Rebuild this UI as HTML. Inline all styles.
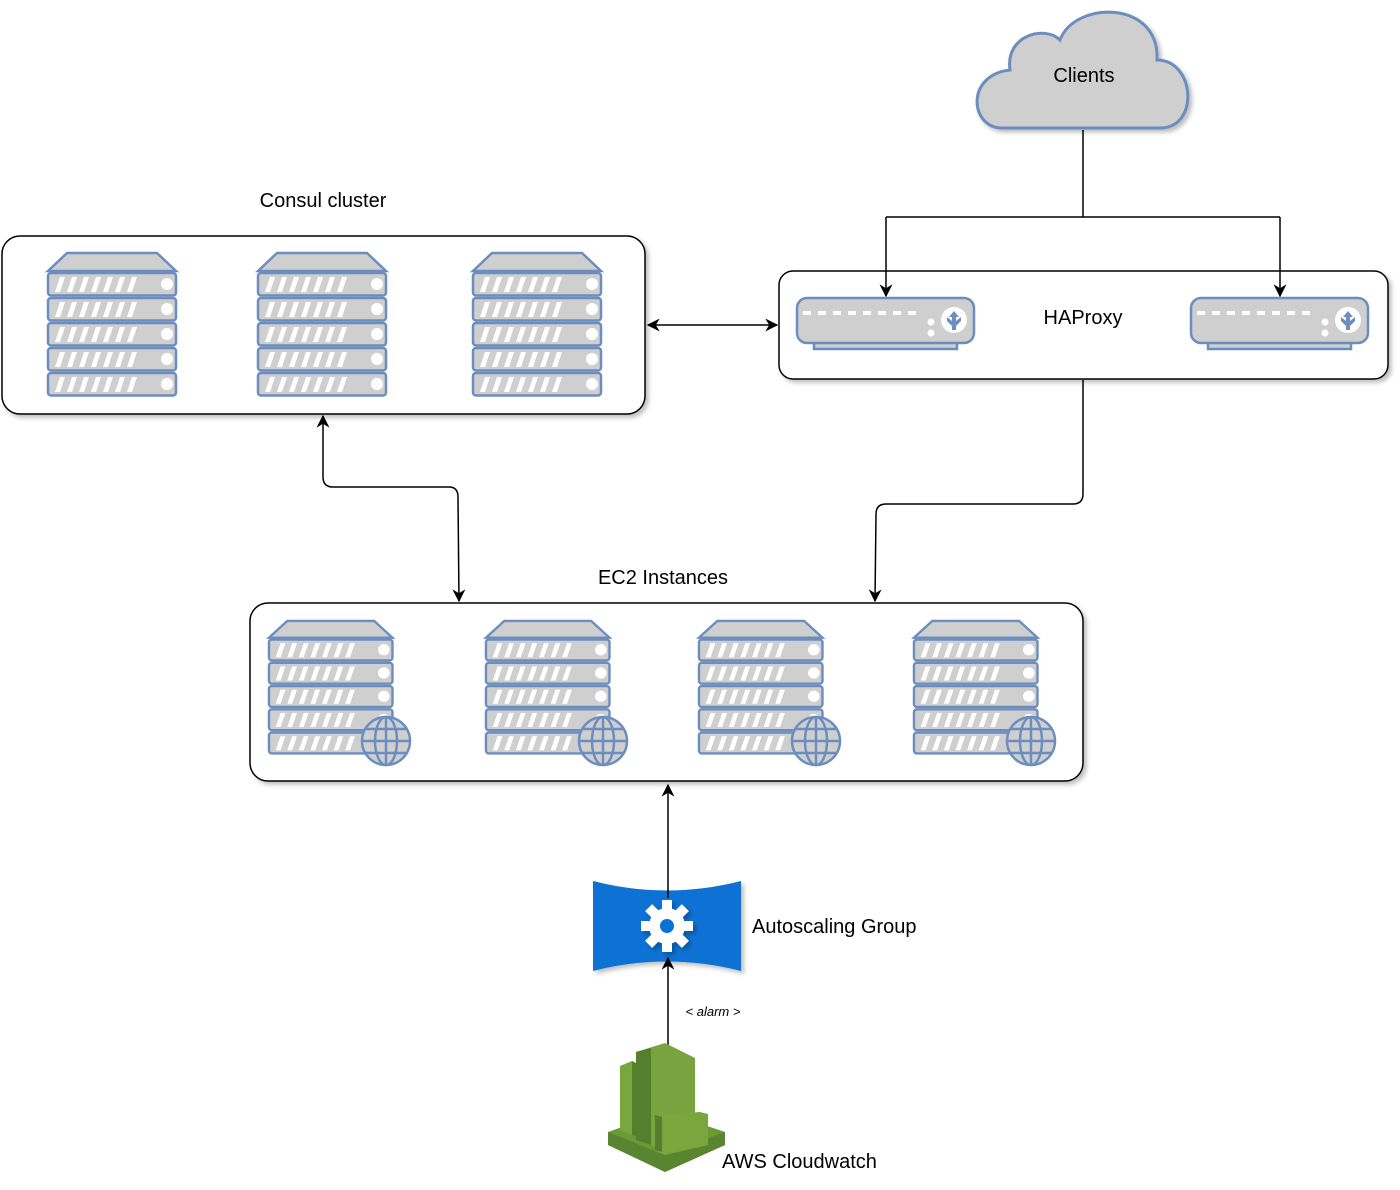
<!DOCTYPE html>
<html><head><meta charset="utf-8"><style>
body{margin:0;background:#fff}
svg{display:block}
text{font-family:"Liberation Sans",Arial,sans-serif;fill:#000}
</style></head><body>
<svg width="1400" height="1190" viewBox="0 0 1400 1190" xmlns="http://www.w3.org/2000/svg">
<defs>
<filter id="sh" x="-10%" y="-10%" width="130%" height="130%"><feDropShadow dx="3" dy="3" stdDeviation="2" flood-color="#000" flood-opacity="0.25"/></filter>
<marker id="ar" viewBox="0 0 10 10" refX="9" refY="5" markerWidth="13" markerHeight="13" orient="auto-start-reverse" markerUnits="userSpaceOnUse"><path d="M0,0 L10,5 L0,10 L3,5 z" fill="#000"/></marker>
<g id="row">
<rect x="1" y="0" width="128" height="22.5" rx="3" fill="#cfcfcf" stroke="#6c8ebf" stroke-width="2.5"/>
<g fill="#fff">
<path d="M8,19 L13,4 L18,4 L13,19z"/><path d="M20,19 L25,4 L30,4 L25,19z"/><path d="M32,19 L37,4 L42,4 L37,19z"/><path d="M44,19 L49,4 L54,4 L49,19z"/><path d="M56,19 L61,4 L66,4 L61,19z"/><path d="M68,19 L73,4 L78,4 L73,19z"/><path d="M80,19 L85,4 L90,4 L85,19z"/>
<circle cx="120" cy="11" r="6"/></g>
</g>
<g id="srv">
<path d="M1,19 L20,1 L110,1 L129,19z" fill="#cfcfcf" stroke="#6c8ebf" stroke-width="2.5"/>
<use href="#row" y="21"/><use href="#row" y="46"/><use href="#row" y="71"/><use href="#row" y="96"/><use href="#row" y="121"/>
</g>
<g id="globe" fill="none" stroke="#6c8ebf" stroke-width="2.5">
<circle r="24" fill="#cfcfcf"/>
<ellipse rx="11" ry="24"/><line x1="0" y1="-24" x2="0" y2="24"/><line x1="-24" y1="0" x2="24" y2="0"/>
<line x1="-20" y1="-12" x2="20" y2="-12"/><line x1="-20" y1="12" x2="20" y2="12"/>
</g>
<g id="ec2"><g transform="scale(0.965,0.93)"><use href="#srv"/></g><use href="#globe" x="118" y="121"/></g>
<g id="sw">
<rect x="18" y="44" width="143" height="8" fill="#cfcfcf" stroke="#6c8ebf" stroke-width="2.5"/>
<rect x="1" y="1" width="177" height="45" rx="10" fill="#cfcfcf" stroke="#6c8ebf" stroke-width="2.5"/>
<g fill="#fff"><rect x="7" y="14" width="8" height="4"/><rect x="22" y="14" width="8" height="4"/><rect x="37" y="14" width="8" height="4"/><rect x="52" y="14" width="8" height="4"/><rect x="67" y="14" width="8" height="4"/><rect x="82" y="14" width="8" height="4"/><rect x="97" y="14" width="8" height="4"/><rect x="112" y="14" width="8" height="4"/>
<circle cx="135" cy="25" r="3.5"/><circle cx="135" cy="36" r="3.5"/><circle cx="158" cy="23" r="13"/></g>
<path d="M158,14 L153,20 L156,20 L156,24 L151,20 L151,24 L156,29 L156,33 L160,33 L160,29 L165,24 L165,20 L160,24 L160,20 L163,20z" fill="#6c8ebf"/>
</g>
</defs>

<path d="M1002,128 C970,128 965,75 1010,70 C1005,35 1045,25 1060,40 C1075,0 1160,0 1157,60 C1195,60 1200,128 1160,128 Z" fill="#cfcfcf" stroke="#6c8ebf" stroke-width="3" filter="url(#sh)"/>
<text x="1084" y="82" font-size="20" text-anchor="middle">Clients</text>

<rect x="2" y="236" width="643" height="178" rx="18" fill="#fff" stroke="#000" stroke-width="1.5" filter="url(#sh)"/>
<rect x="779" y="271" width="609" height="108" rx="14" fill="#fff" stroke="#000" stroke-width="1.5" filter="url(#sh)"/>
<rect x="250" y="603" width="833" height="178" rx="18" fill="#fff" stroke="#000" stroke-width="1.5" filter="url(#sh)"/>

<use href="#srv" x="47" y="252"/><use href="#srv" x="257" y="252"/><use href="#srv" x="472" y="252"/>
<use href="#ec2" x="268" y="620"/><use href="#ec2" x="485" y="620"/><use href="#ec2" x="698" y="620"/><use href="#ec2" x="913" y="620"/>
<use href="#sw" x="796" y="297"/><use href="#sw" x="1190" y="297"/>

<text x="323" y="207" font-size="20" text-anchor="middle">Consul cluster</text>
<text x="1083" y="324" font-size="20" text-anchor="middle">HAProxy</text>
<text x="663" y="584" font-size="20" text-anchor="middle">EC2 Instances</text>

<g fill="none" stroke="#000" stroke-width="1.5">
<path d="M1083,130 L1083,217 M886,217 L1280,217"/>
<path d="M886,217 L886,296" marker-end="url(#ar)"/>
<path d="M1280,217 L1280,296" marker-end="url(#ar)"/>
<path d="M648,325 L777,325" marker-start="url(#ar)" marker-end="url(#ar)"/>
<path d="M323,416 L323,477 Q323,487 333,487 L449,487 Q458,487 458,497 L459,601" marker-start="url(#ar)" marker-end="url(#ar)"/>
<path d="M1083,380 L1083,494 Q1083,504 1073,504 L886,504 Q876,504 876,514 L875,601" marker-end="url(#ar)"/>
<path d="M668,880 L668,785" marker-end="url(#ar)"/>
</g>

<path d="M593,881 Q667,900 741,881 L741,971 Q667,952 593,971 Z" fill="#0a72d4" filter="url(#sh)"/>
<path d="M668,880 L668,898" stroke="#000" stroke-width="1.5"/>
<g transform="translate(667,926)">
<g fill="#fff" filter="url(#sh)">
<circle r="18"/>
<rect x="-5" y="-26" width="10" height="52"/><rect x="-5" y="-26" width="10" height="52" transform="rotate(45)"/><rect x="-5" y="-26" width="10" height="52" transform="rotate(90)"/><rect x="-5" y="-26" width="10" height="52" transform="rotate(135)"/>
</g>
<circle r="7" fill="#0a72d4"/>
</g>
<path d="M668,1045 L668,958" stroke="#000" stroke-width="1.5" fill="none" marker-end="url(#ar)"/>
<text x="752" y="933" font-size="20">Autoscaling Group</text>
<text x="713" y="1016" font-size="13" font-style="italic" text-anchor="middle">&lt; alarm &gt;</text>

<g>
<path d="M608,1132 L665,1112 L725,1132 L725,1145 L665,1172 L608,1145Z" fill="#6a9a35"/>
<path d="M608,1132 L665,1155 L725,1132 L725,1145 L665,1172 L608,1145Z" fill="#5a8530"/>
<path d="M620,1066 L632,1061 L632,1135 L620,1130Z" fill="#7aa63d"/>
<path d="M632,1061 L638,1064 L638,1137 L632,1135Z" fill="#54802b"/>
<path d="M636,1052 L665,1043 L695,1058 L695,1140 L665,1150 L636,1140Z" fill="#79a33e"/>
<path d="M636,1052 L651,1048 L651,1145 L636,1140Z" fill="#557f2c"/>
<path d="M655,1115 L700,1112 L708,1114 L708,1145 L665,1155 L655,1150Z" fill="#7aa63d"/>
<path d="M655,1115 L662,1117 L662,1152 L655,1150Z" fill="#557f2c"/>
</g>
<text x="722" y="1168" font-size="20">AWS Cloudwatch</text>
</svg>
</body></html>
